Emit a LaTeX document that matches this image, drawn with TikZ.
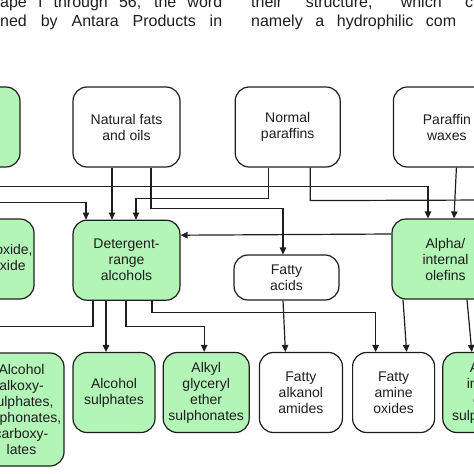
\documentclass[tikz,border=0pt]{standalone}
\usepackage{fontspec}
\setmainfont{Liberation Sans}
\usetikzlibrary{arrows.meta,positioning}
\definecolor{boxgreen}{RGB}{178,245,182}
\definecolor{inkgray}{RGB}{30,30,30}

\begin{document}
\begin{tikzpicture}[
                x=1pt, y=-1pt,
                box/.style={rectangle, draw=inkgray, rounded corners=14pt, line width=1.2pt, minimum width=107pt, minimum height=80pt, inner sep=0pt, align=center, text=inkgray, font=\fontsize{14}{16}\selectfont},
                greenbox/.style={box, fill=boxgreen},
                pagetext/.style={anchor=base west, inner sep=0pt, text=inkgray, font=\fontsize{16}{19}\selectfont},
                link/.style={-{Triangle[length=7pt,width=6.5pt]}, line width=1.2pt, draw=inkgray}
            ]
                \useasboundingbox (0,0) rectangle (474,474);
                \clip (0,0) rectangle (474,474);

                % running text of the page above the figure
                \node[pagetext] (txtla) at (0,7) {\makebox[222pt][s]{ape I through 56, the word}};
                \node[pagetext] (txtlb) at (0,26) {\makebox[222pt][s]{ned by Antara Products in}};
                \node[pagetext] (txtra) at (251,7) {\makebox[222pt][s]{their structure, which c}};
                \node[pagetext] (txtrb) at (251,26) {\makebox[205pt][s]{namely a hydrophilic com}};

                % raw materials
                \node[greenbox] (ltop) at (-33.5,127) {};
                \node[box] (nat) at (126.5,127) {Natural fats\\and oils};
                \node[box, minimum width=105pt, right=54pt of nat] (npar) {Normal\\paraffins};
                \node[box, right=52pt of npar] (pwax) {Paraffin\\waxes};

                % intermediates
                \node[greenbox] (lmid) at (-19.5,259) {Propylene oxide,\\ethylene oxide};
                \node[greenbox, below=52pt of nat] (det) {Detergent-\\range\\alcohols};
                \node[box, minimum width=105pt, minimum height=45pt] (facid) at (286.5,277.5) {Fatty\\acids};
                \node[greenbox] (olef) at (445.5,259) {Alpha/\\internal\\olefins};

                % surfactants
                \node[greenbox, minimum width=85pt, minimum height=113pt] (alkoxy) at (21.5,409.5) {Alcohol\\alkoxy-\\sulphates,\\sulphonates,\\carboxy-\\lates};
                \node[greenbox, minimum width=82pt] (asulf) at (114,392.5) {Alcohol\\sulphates};
                \node[greenbox, minimum width=86pt, right=7pt of asulf] (agly) {Alkyl\\glyceryl\\ether\\sulphonates};
                \node[box, minimum width=83pt, right=9pt of agly] (famid) {Fatty\\alkanol\\amides};
                \node[box, minimum width=82pt, right=9pt of famid] (famox) {Fatty\\amine\\oxides};
                \node[greenbox, minimum width=94pt, right=7pt of famox] (aos) {Alpha/\\internal\\olefin\\sulphonates};
                \coordinate (offright) at (490,200);

                \draw[link] ([xshift=23.5pt]ltop.south) -- ++(0,19) -| ([xshift=-17.5pt]olef.north);
                \draw[link] ([xshift=13.5pt]ltop.south) -- ++(0,35) -| ([xshift=-40.5pt]det.north);
                \draw[link] ([xshift=-14.5pt]nat.south) -- ([xshift=-14.5pt]det.north);
                \draw[link] ([xshift=24.5pt]nat.south) -- ++(0,41) -| ([xshift=-3.5pt]facid.north);
                \draw[link] ([xshift=-19.5pt]npar.south) -- ++(0,31) -| ([xshift=9.5pt]det.north);
                \draw[link] ([xshift=22.5pt]npar.south) -- ++(0,33) -- (offright);
                \draw[link] ([xshift=9.5pt]pwax.south) -- ([xshift=8.5pt]olef.north);
                \draw[link] ([yshift=25pt]olef.west) -- ([yshift=25pt]det.east);

                \draw[link] ([xshift=-33.5pt]det.south) -- ++(0,26) -| ([xshift=-36.5pt]alkoxy.north);
                \draw[link] ([xshift=-20.5pt]det.south) -- ([xshift=-8pt]asulf.north);
                \draw[link] ([xshift=-0.5pt]det.south) -- ++(0,26) -| ([xshift=-2pt]agly.north);
                \draw[link] ([xshift=25.5pt]det.south) -- ++(0,12) -| ([xshift=-18pt]famox.north);
                \draw[link] ([xshift=-3.5pt]facid.south) -- ([xshift=-15.5pt]famid.north);
                \draw[link] ([xshift=-42.5pt]olef.south) -- ([xshift=13pt]famox.north);
                \draw[link] ([xshift=21.5pt]olef.south) -- ([xshift=-18pt]aos.north);
            \end{tikzpicture}
\end{document}
